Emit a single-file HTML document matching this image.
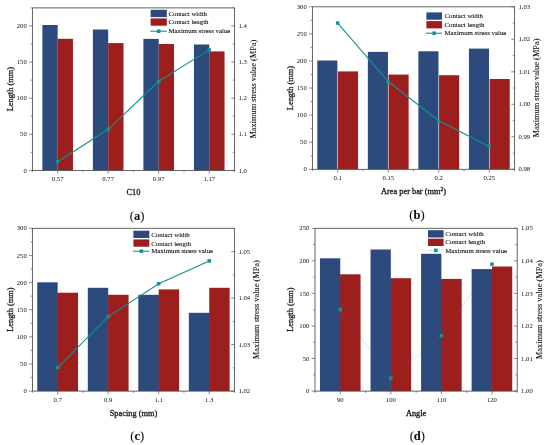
<!DOCTYPE html>
<html><head><meta charset="utf-8"><title>Figure</title>
<style>
html,body{margin:0;padding:0;background:#fff;}
svg{display:block;font-family:"Liberation Serif", "DejaVu Serif", serif;fill:#1a1a1a;}
svg text{fill:#111;stroke:#111;stroke-width:0.1px;}
svg text.t{fill:#111;stroke:none;}
svg text.b{stroke-width:0.28px;}
</style></head><body>
<svg width="550" height="445" viewBox="0 0 550 445">
<rect width="550" height="445" fill="#ffffff"/>
<rect x="42.36" y="25.00" width="15.30" height="145.40" fill="#2c4a7c"/>
<rect x="57.66" y="38.80" width="15.30" height="131.60" fill="#9c1f1e"/>
<rect x="92.89" y="29.50" width="15.30" height="140.90" fill="#2c4a7c"/>
<rect x="108.19" y="43.10" width="15.30" height="127.30" fill="#9c1f1e"/>
<rect x="143.41" y="38.90" width="15.30" height="131.50" fill="#2c4a7c"/>
<rect x="158.71" y="44.00" width="15.30" height="126.40" fill="#9c1f1e"/>
<rect x="193.94" y="44.50" width="15.30" height="125.90" fill="#2c4a7c"/>
<rect x="209.24" y="51.40" width="15.30" height="119.00" fill="#9c1f1e"/>
<path d="M57.66,161.70 C57.66,161.70 108.19,129.30 108.19,129.30 C108.19,129.30 158.71,81.30 158.71,81.30 C158.71,81.30 209.24,49.90 209.24,49.90" fill="none" stroke="#139292" stroke-width="1.1"/>
<rect x="55.91" y="159.95" width="3.5" height="3.5" fill="#139292"/>
<rect x="106.44" y="127.55" width="3.5" height="3.5" fill="#139292"/>
<rect x="156.96" y="79.55" width="3.5" height="3.5" fill="#139292"/>
<rect x="207.49" y="48.15" width="3.5" height="3.5" fill="#139292"/>
<rect x="32.4" y="7.9" width="202.1" height="162.5" fill="none" stroke="#4a4a4a" stroke-width="0.85"/>
<text x="26.80" y="172.50" text-anchor="end" class="t" font-size="6.7">0</text>
<text x="26.80" y="136.39" text-anchor="end" class="t" font-size="6.7">50</text>
<text x="26.80" y="100.28" text-anchor="end" class="t" font-size="6.7">100</text>
<text x="26.80" y="64.17" text-anchor="end" class="t" font-size="6.7">150</text>
<text x="26.80" y="28.06" text-anchor="end" class="t" font-size="6.7">200</text>
<text x="238.40" y="172.50" text-anchor="start" class="t" font-size="6.7">1.0</text>
<text x="238.40" y="136.39" text-anchor="start" class="t" font-size="6.7">1.1</text>
<text x="238.40" y="100.28" text-anchor="start" class="t" font-size="6.7">1.2</text>
<text x="238.40" y="64.17" text-anchor="start" class="t" font-size="6.7">1.3</text>
<text x="238.40" y="28.06" text-anchor="start" class="t" font-size="6.7">1.4</text>
<text x="57.66" y="181.10" text-anchor="middle" class="t" font-size="6.7">0.57</text>
<text x="108.19" y="181.10" text-anchor="middle" class="t" font-size="6.7">0.77</text>
<text x="158.71" y="181.10" text-anchor="middle" class="t" font-size="6.7">0.97</text>
<text x="209.24" y="181.10" text-anchor="middle" class="t" font-size="6.7">1.17</text>
<path d="M32.4,170.40h-3.3M32.4,134.29h-3.3M32.4,98.18h-3.3M32.4,62.07h-3.3M32.4,25.96h-3.3M32.4,152.34h-1.7M32.4,116.23h-1.7M32.4,80.12h-1.7M32.4,44.01h-1.7M32.4,7.90h-1.7M234.5,170.40h-3.3M234.5,134.29h-3.3M234.5,98.18h-3.3M234.5,62.07h-3.3M234.5,25.96h-3.3M234.5,152.34h-1.7M234.5,116.23h-1.7M234.5,80.12h-1.7M234.5,44.01h-1.7M234.5,7.90h-1.7M57.66,170.4v3.3M108.19,170.4v3.3M158.71,170.4v3.3M209.24,170.4v3.3M32.40,170.4v1.7M82.92,170.4v1.7M133.45,170.4v1.7M183.98,170.4v1.7M234.50,170.4v1.7" stroke="#555" stroke-width="0.7" fill="none"/>
<text x="133.45" y="194.80" class="b" text-anchor="middle" font-size="8.35">C10</text>
<text transform="translate(13.30,89.15) rotate(-90)" text-anchor="middle" class="b" font-size="8.35">Length (mm)</text>
<text transform="translate(256.20,89.15) rotate(-90)" text-anchor="middle" font-size="8.35">Maximum stress value (MPa)</text>
<rect x="150.60" y="9.80" width="16.2" height="7.3" fill="#2c4a7c"/>
<rect x="150.60" y="18.40" width="16.2" height="7.3" fill="#9c1f1e"/>
<path d="M150.20,31.20h16.599999999999998" stroke="#139292" stroke-width="1.1"/>
<rect x="156.95" y="29.45" width="3.5" height="3.5" fill="#139292"/>
<text x="168.40" y="15.60" font-size="6.85">Contact width</text>
<text x="168.40" y="24.30" font-size="6.85">Contact length</text>
<text x="168.40" y="33.20" font-size="6.85">Maximum stress value</text>
<text x="137" y="219.5" text-anchor="middle" font-size="12.5">(<tspan font-weight="bold">a</tspan>)</text>
<rect x="317.27" y="60.50" width="20.10" height="108.80" fill="#2c4a7c"/>
<rect x="337.97" y="71.40" width="20.10" height="97.90" fill="#9c1f1e"/>
<rect x="367.83" y="51.90" width="20.10" height="117.40" fill="#2c4a7c"/>
<rect x="388.53" y="74.60" width="20.10" height="94.70" fill="#9c1f1e"/>
<rect x="418.38" y="51.30" width="20.10" height="118.00" fill="#2c4a7c"/>
<rect x="439.07" y="75.20" width="20.10" height="94.10" fill="#9c1f1e"/>
<rect x="468.93" y="48.60" width="20.10" height="120.70" fill="#2c4a7c"/>
<rect x="489.63" y="79.00" width="20.10" height="90.30" fill="#9c1f1e"/>
<path d="M337.67,23.10 C337.67,23.10 388.23,81.50 388.23,81.50 C388.23,81.50 438.77,120.80 438.77,120.80 C438.77,120.80 489.33,146.60 489.33,146.60" fill="none" stroke="#139292" stroke-width="1.1"/>
<rect x="335.92" y="21.35" width="3.5" height="3.5" fill="#139292"/>
<rect x="386.48" y="79.75" width="3.5" height="3.5" fill="#139292"/>
<rect x="437.02" y="119.05" width="3.5" height="3.5" fill="#139292"/>
<rect x="487.58" y="144.85" width="3.5" height="3.5" fill="#139292"/>
<rect x="312.4" y="6.8" width="202.20000000000005" height="162.5" fill="none" stroke="#4a4a4a" stroke-width="0.85"/>
<text x="306.80" y="171.40" text-anchor="end" class="t" font-size="6.7">0</text>
<text x="306.80" y="144.32" text-anchor="end" class="t" font-size="6.7">50</text>
<text x="306.80" y="117.23" text-anchor="end" class="t" font-size="6.7">100</text>
<text x="306.80" y="90.15" text-anchor="end" class="t" font-size="6.7">150</text>
<text x="306.80" y="63.07" text-anchor="end" class="t" font-size="6.7">200</text>
<text x="306.80" y="35.98" text-anchor="end" class="t" font-size="6.7">250</text>
<text x="306.80" y="8.90" text-anchor="end" class="t" font-size="6.7">300</text>
<text x="518.50" y="171.40" text-anchor="start" class="t" font-size="6.7">0.98</text>
<text x="518.50" y="138.90" text-anchor="start" class="t" font-size="6.7">0.99</text>
<text x="518.50" y="106.40" text-anchor="start" class="t" font-size="6.7">1.00</text>
<text x="518.50" y="73.90" text-anchor="start" class="t" font-size="6.7">1.01</text>
<text x="518.50" y="41.40" text-anchor="start" class="t" font-size="6.7">1.02</text>
<text x="518.50" y="8.90" text-anchor="start" class="t" font-size="6.7">1.03</text>
<text x="337.67" y="180.00" text-anchor="middle" class="t" font-size="6.7">0.1</text>
<text x="388.23" y="180.00" text-anchor="middle" class="t" font-size="6.7">0.15</text>
<text x="438.77" y="180.00" text-anchor="middle" class="t" font-size="6.7">0.2</text>
<text x="489.33" y="180.00" text-anchor="middle" class="t" font-size="6.7">0.25</text>
<path d="M312.4,169.30h-3.3M312.4,142.22h-3.3M312.4,115.13h-3.3M312.4,88.05h-3.3M312.4,60.97h-3.3M312.4,33.88h-3.3M312.4,6.80h-3.3M312.4,155.76h-1.7M312.4,128.68h-1.7M312.4,101.59h-1.7M312.4,74.51h-1.7M312.4,47.43h-1.7M312.4,20.34h-1.7M514.6,169.30h-3.3M514.6,136.80h-3.3M514.6,104.30h-3.3M514.6,71.80h-3.3M514.6,39.30h-3.3M514.6,6.80h-3.3M514.6,153.05h-1.7M514.6,120.55h-1.7M514.6,88.05h-1.7M514.6,55.55h-1.7M514.6,23.05h-1.7M337.67,169.3v3.3M388.23,169.3v3.3M438.77,169.3v3.3M489.33,169.3v3.3M312.40,169.3v1.7M362.95,169.3v1.7M413.50,169.3v1.7M464.05,169.3v1.7M514.60,169.3v1.7" stroke="#555" stroke-width="0.7" fill="none"/>
<text x="413.50" y="193.70" class="b" text-anchor="middle" font-size="8.35">Area per bar (mm<tspan dy="-3" font-size="5.5">2</tspan><tspan dy="3">)</tspan></text>
<text transform="translate(293.20,88.05) rotate(-90)" text-anchor="middle" class="b" font-size="8.35">Length (mm)</text>
<text transform="translate(539.40,88.05) rotate(-90)" text-anchor="middle" font-size="8.35">Maximum stress value (MPa)</text>
<rect x="426.40" y="12.40" width="15.6" height="7.3" fill="#2c4a7c"/>
<rect x="426.40" y="21.10" width="15.6" height="7.3" fill="#9c1f1e"/>
<path d="M426.00,33.20h16.0" stroke="#139292" stroke-width="1.1"/>
<rect x="432.45" y="31.45" width="3.5" height="3.5" fill="#139292"/>
<text x="444.40" y="18.10" font-size="6.85">Contact width</text>
<text x="444.40" y="26.60" font-size="6.85">Contact length</text>
<text x="444.40" y="35.30" font-size="6.85">Maximum stress value</text>
<text x="417" y="219.3" text-anchor="middle" font-size="12.5">(<tspan font-weight="bold">b</tspan>)</text>
<rect x="37.26" y="282.30" width="20.40" height="108.80" fill="#2c4a7c"/>
<rect x="57.16" y="293.10" width="1.10" height="98.00" fill="#2c4a7c"/>
<rect x="57.66" y="292.70" width="20.40" height="98.40" fill="#9c1f1e"/>
<rect x="87.79" y="287.80" width="20.40" height="103.30" fill="#2c4a7c"/>
<rect x="107.69" y="295.20" width="1.10" height="95.90" fill="#2c4a7c"/>
<rect x="108.19" y="294.80" width="20.40" height="96.30" fill="#9c1f1e"/>
<rect x="138.31" y="294.80" width="20.40" height="96.30" fill="#2c4a7c"/>
<rect x="158.21" y="295.20" width="1.10" height="95.90" fill="#2c4a7c"/>
<rect x="158.71" y="289.40" width="20.40" height="101.70" fill="#9c1f1e"/>
<rect x="188.84" y="312.80" width="20.40" height="78.30" fill="#2c4a7c"/>
<rect x="208.74" y="313.20" width="1.10" height="77.90" fill="#2c4a7c"/>
<rect x="209.24" y="287.80" width="20.40" height="103.30" fill="#9c1f1e"/>
<path d="M57.66,367.60 C57.66,367.60 108.19,316.60 108.19,316.60 C108.19,316.60 158.71,283.70 158.71,283.70 C158.71,283.70 209.24,260.90 209.24,260.90" fill="none" stroke="#139292" stroke-width="1.1"/>
<rect x="55.91" y="365.85" width="3.5" height="3.5" fill="#139292"/>
<rect x="106.44" y="314.85" width="3.5" height="3.5" fill="#139292"/>
<rect x="156.96" y="281.95" width="3.5" height="3.5" fill="#139292"/>
<rect x="207.49" y="259.15" width="3.5" height="3.5" fill="#139292"/>
<rect x="32.4" y="228.3" width="202.1" height="162.8" fill="none" stroke="#4a4a4a" stroke-width="0.85"/>
<text x="26.80" y="393.20" text-anchor="end" class="t" font-size="6.7">0</text>
<text x="26.80" y="366.07" text-anchor="end" class="t" font-size="6.7">50</text>
<text x="26.80" y="338.93" text-anchor="end" class="t" font-size="6.7">100</text>
<text x="26.80" y="311.80" text-anchor="end" class="t" font-size="6.7">150</text>
<text x="26.80" y="284.67" text-anchor="end" class="t" font-size="6.7">200</text>
<text x="26.80" y="257.53" text-anchor="end" class="t" font-size="6.7">250</text>
<text x="26.80" y="230.40" text-anchor="end" class="t" font-size="6.7">300</text>
<text x="238.40" y="393.20" text-anchor="start" class="t" font-size="6.7">1.02</text>
<text x="238.40" y="346.69" text-anchor="start" class="t" font-size="6.7">1.03</text>
<text x="238.40" y="300.17" text-anchor="start" class="t" font-size="6.7">1.04</text>
<text x="238.40" y="253.66" text-anchor="start" class="t" font-size="6.7">1.05</text>
<text x="57.66" y="401.80" text-anchor="middle" class="t" font-size="6.7">0.7</text>
<text x="108.19" y="401.80" text-anchor="middle" class="t" font-size="6.7">0.9</text>
<text x="158.71" y="401.80" text-anchor="middle" class="t" font-size="6.7">1.1</text>
<text x="209.24" y="401.80" text-anchor="middle" class="t" font-size="6.7">1.3</text>
<path d="M32.4,391.10h-3.3M32.4,363.97h-3.3M32.4,336.83h-3.3M32.4,309.70h-3.3M32.4,282.57h-3.3M32.4,255.43h-3.3M32.4,228.30h-3.3M32.4,377.53h-1.7M32.4,350.40h-1.7M32.4,323.27h-1.7M32.4,296.13h-1.7M32.4,269.00h-1.7M32.4,241.87h-1.7M234.5,391.10h-3.3M234.5,344.59h-3.3M234.5,298.07h-3.3M234.5,251.56h-3.3M234.5,367.84h-1.7M234.5,321.33h-1.7M234.5,274.81h-1.7M234.5,228.30h-1.7M57.66,391.1v3.3M108.19,391.1v3.3M158.71,391.1v3.3M209.24,391.1v3.3M32.40,391.1v1.7M82.92,391.1v1.7M133.45,391.1v1.7M183.98,391.1v1.7M234.50,391.1v1.7" stroke="#555" stroke-width="0.7" fill="none"/>
<text x="133.45" y="415.50" class="b" text-anchor="middle" font-size="8.35">Spacing (mm)</text>
<text transform="translate(13.30,309.70) rotate(-90)" text-anchor="middle" class="b" font-size="8.35">Length (mm)</text>
<text transform="translate(259.20,309.70) rotate(-90)" text-anchor="middle" font-size="8.35">Maximum stress value (MPa)</text>
<rect x="133.40" y="230.70" width="15.9" height="7.3" fill="#2c4a7c"/>
<rect x="133.40" y="239.40" width="15.9" height="7.3" fill="#9c1f1e"/>
<path d="M133.00,251.20h16.3" stroke="#139292" stroke-width="1.1"/>
<rect x="139.60" y="249.45" width="3.5" height="3.5" fill="#139292"/>
<text x="151.20" y="236.80" font-size="6.85">Contact width</text>
<text x="151.20" y="245.50" font-size="6.85">Contact length</text>
<text x="151.20" y="253.30" font-size="6.85">Maximum stress value</text>
<text x="137.2" y="439.6" text-anchor="middle" font-size="12.5">(<tspan font-weight="bold">c</tspan>)</text>
<rect x="319.97" y="258.30" width="20.30" height="132.80" fill="#2c4a7c"/>
<rect x="339.77" y="274.70" width="1.10" height="116.40" fill="#2c4a7c"/>
<rect x="340.27" y="274.30" width="20.30" height="116.80" fill="#9c1f1e"/>
<rect x="370.53" y="249.50" width="20.30" height="141.60" fill="#2c4a7c"/>
<rect x="390.33" y="278.60" width="1.10" height="112.50" fill="#2c4a7c"/>
<rect x="390.83" y="278.20" width="20.30" height="112.90" fill="#9c1f1e"/>
<rect x="421.07" y="253.80" width="20.30" height="137.30" fill="#2c4a7c"/>
<rect x="440.88" y="279.30" width="1.10" height="111.80" fill="#2c4a7c"/>
<rect x="441.38" y="278.90" width="20.30" height="112.20" fill="#9c1f1e"/>
<rect x="471.63" y="269.10" width="20.30" height="122.00" fill="#2c4a7c"/>
<rect x="491.43" y="269.50" width="1.10" height="121.60" fill="#2c4a7c"/>
<rect x="491.93" y="266.50" width="20.30" height="124.60" fill="#9c1f1e"/>
<path d="M340.27,309.60 C340.27,309.60 390.83,378.20 390.83,378.20 C390.83,378.20 441.38,335.80 441.38,335.80 C441.38,335.80 491.93,264.10 491.93,264.10" fill="none" stroke="#139292" stroke-width="0.22"/>
<rect x="338.52" y="307.85" width="3.5" height="3.5" fill="#139292"/>
<rect x="389.08" y="376.45" width="3.5" height="3.5" fill="#139292"/>
<rect x="439.62" y="334.05" width="3.5" height="3.5" fill="#139292"/>
<rect x="490.18" y="262.35" width="3.5" height="3.5" fill="#139292"/>
<rect x="315.0" y="228.3" width="202.20000000000005" height="162.8" fill="none" stroke="#4a4a4a" stroke-width="0.85"/>
<text x="309.40" y="393.20" text-anchor="end" class="t" font-size="6.7">0</text>
<text x="309.40" y="360.64" text-anchor="end" class="t" font-size="6.7">50</text>
<text x="309.40" y="328.08" text-anchor="end" class="t" font-size="6.7">100</text>
<text x="309.40" y="295.52" text-anchor="end" class="t" font-size="6.7">150</text>
<text x="309.40" y="262.96" text-anchor="end" class="t" font-size="6.7">200</text>
<text x="309.40" y="230.40" text-anchor="end" class="t" font-size="6.7">250</text>
<text x="521.10" y="393.20" text-anchor="start" class="t" font-size="6.7">1.00</text>
<text x="521.10" y="360.64" text-anchor="start" class="t" font-size="6.7">1.01</text>
<text x="521.10" y="328.08" text-anchor="start" class="t" font-size="6.7">1.02</text>
<text x="521.10" y="295.52" text-anchor="start" class="t" font-size="6.7">1.03</text>
<text x="521.10" y="262.96" text-anchor="start" class="t" font-size="6.7">1.04</text>
<text x="521.10" y="230.40" text-anchor="start" class="t" font-size="6.7">1.05</text>
<text x="340.27" y="401.80" text-anchor="middle" class="t" font-size="6.7">90</text>
<text x="390.83" y="401.80" text-anchor="middle" class="t" font-size="6.7">100</text>
<text x="441.38" y="401.80" text-anchor="middle" class="t" font-size="6.7">110</text>
<text x="491.93" y="401.80" text-anchor="middle" class="t" font-size="6.7">120</text>
<path d="M315.0,391.10h-3.3M315.0,358.54h-3.3M315.0,325.98h-3.3M315.0,293.42h-3.3M315.0,260.86h-3.3M315.0,228.30h-3.3M315.0,374.82h-1.7M315.0,342.26h-1.7M315.0,309.70h-1.7M315.0,277.14h-1.7M315.0,244.58h-1.7M517.2,391.10h-3.3M517.2,358.54h-3.3M517.2,325.98h-3.3M517.2,293.42h-3.3M517.2,260.86h-3.3M517.2,228.30h-3.3M517.2,374.82h-1.7M517.2,342.26h-1.7M517.2,309.70h-1.7M517.2,277.14h-1.7M517.2,244.58h-1.7M340.27,391.1v3.3M390.83,391.1v3.3M441.38,391.1v3.3M491.93,391.1v3.3M315.00,391.1v1.7M365.55,391.1v1.7M416.10,391.1v1.7M466.65,391.1v1.7M517.20,391.1v1.7" stroke="#555" stroke-width="0.7" fill="none"/>
<text x="416.10" y="415.50" class="b" text-anchor="middle" font-size="8.35">Angle</text>
<text transform="translate(293.10,309.70) rotate(-90)" text-anchor="middle" class="b" font-size="8.35">Length (mm)</text>
<text transform="translate(541.90,309.70) rotate(-90)" text-anchor="middle" font-size="8.35">Maximum stress value (MPa)</text>
<rect x="428.00" y="230.20" width="15.6" height="7.3" fill="#2c4a7c"/>
<rect x="428.00" y="238.70" width="15.6" height="7.3" fill="#9c1f1e"/>
<path d="M427.60,250.40h16.0" stroke="#139292" stroke-width="0.22"/>
<rect x="434.05" y="248.65" width="3.5" height="3.5" fill="#139292"/>
<text x="445.20" y="235.60" font-size="6.85">Contact width</text>
<text x="445.20" y="244.10" font-size="6.85">Contact length</text>
<text x="445.20" y="252.50" font-size="6.85">Maximum stress value</text>
<text x="417.3" y="439.6" text-anchor="middle" font-size="12.5">(<tspan font-weight="bold">d</tspan>)</text>
</svg>
</body></html>
